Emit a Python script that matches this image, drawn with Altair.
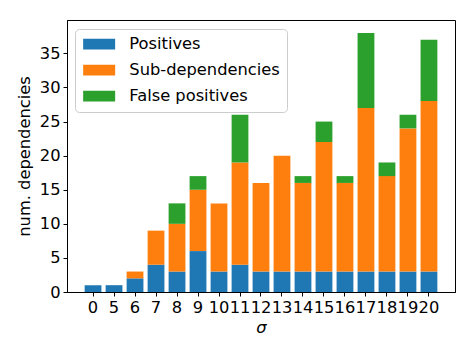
import altair as alt
import pandas as pd

sigma = ["0", "5", "6", "7", "8", "9", "10", "11", "12", "13", "14", "15", "16", "17", "18", "19", "20"]
positives = [1, 1, 2, 4, 3, 6, 3, 4, 3, 3, 3, 3, 3, 3, 3, 3, 3]
sub_deps = [0, 0, 1, 5, 7, 9, 10, 15, 13, 17, 13, 19, 13, 24, 14, 21, 25]
false_pos = [0, 0, 0, 0, 3, 2, 0, 7, 0, 0, 1, 3, 1, 11, 2, 2, 9]

series = ["Positives", "Sub-dependencies", "False positives"]
colors = ["#1f77b4", "#ff7f0e", "#2ca02c"]

rows = []
for i, s in enumerate(sigma):
    for k, (name, vals) in enumerate(zip(series, [positives, sub_deps, false_pos])):
        rows.append({"sigma": s, "series": name, "value": vals[i], "order": k})
df = pd.DataFrame(rows)

font = "DejaVu Sans"
fs = 16.3
rect_path = "M-2,-0.68L2,-0.68L2,0.68L-2,0.68Z"

chart = alt.Chart(df).mark_bar().encode(
    x=alt.X("sigma:N", sort=sigma,
            scale=alt.Scale(paddingInner=0.2, paddingOuter=0.84),
            axis=alt.Axis(title="σ", labelAngle=0, titleFontStyle="italic")),
    y=alt.Y("value:Q", stack="zero",
            scale=alt.Scale(domain=[0, 39.9], nice=False),
            axis=alt.Axis(title="num. dependencies", values=[0, 5, 10, 15, 20, 25, 30, 35])),
    color=alt.Color("series:N", sort=series,
                    scale=alt.Scale(domain=series, range=colors),
                    legend=alt.Legend(title=None, orient="none", legendX=8, legendY=9,
                                      symbolType=rect_path, symbolSize=256,
                                      symbolOffset=9, labelOffset=22,
                                      symbolStrokeWidth=0, symbolOpacity=1,
                                      labelFontSize=fs, labelFont=font, labelColor="black",
                                      rowPadding=9, padding=7,
                                      fillColor="white", strokeColor="#cccccc",
                                      cornerRadius=4)),
    order=alt.Order("order:Q"),
).properties(
    width=388, height=272,
    autosize=alt.AutoSizeParams(type="none"),
    padding={"left": 59, "top": 12, "right": 11, "bottom": 55},
).configure_view(
    stroke="black", strokeWidth=1
).configure_axis(
    labelFont=font, titleFont=font, labelFontSize=fs, titleFontSize=fs,
    labelColor="black", titleColor="black", titleFontWeight="normal",
    domainColor="black", tickColor="black", tickSize=4, grid=False,
    labelPadding=3,
).configure_axisY(titlePadding=7).configure_axisX(titlePadding=4)

chart.save("out.html", embed_options={"renderer": "svg", "actions": False})
